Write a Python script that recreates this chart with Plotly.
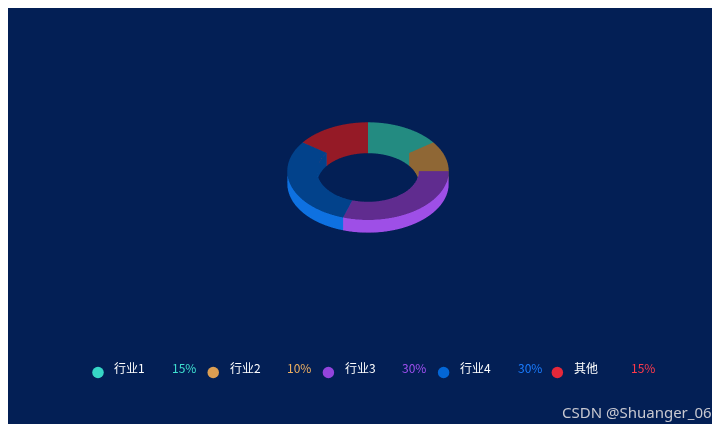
import numpy as np
import plotly.graph_objects as go

names = ["行业1", "行业2", "行业3", "行业4", "其他"]
values = [15, 10, 30, 30, 15]
colors = ["#36d6c6", "#dc9e52", "#9344dc", "#0366d6", "#e5283a"]
text_colors = ["#3fe0d0", "#f0b060", "#a050f0", "#1a7cff", "#ff3a4a"]

r_out, r_in, h = 1.0, 0.63, 0.2


def segment(a0, a1, color, name):
    t = np.linspace(a0, a1, 60)
    n = len(t)
    xs, ys, zs = [], [], []
    for r in (r_out, r_in):
        for z in (h, 0):
            xs += list(r * np.cos(t)); ys += list(r * np.sin(t)); zs += [z] * n
    # blocks: 0 outer top, 1 outer bottom, 2 inner top, 3 inner bottom
    I, J, K = [], [], []
    for b1, b2 in ((0, 2), (1, 3), (0, 1), (2, 3)):
        for k in range(n - 1):
            p, q = b1 * n + k, b2 * n + k
            I.extend([p, p + 1]); J.extend([q, q]); K.extend([p + 1, q + 1])
    for k in (0, n - 1):
        a, b, c, d = k, n + k, 2 * n + k, 3 * n + k
        I.extend([a, b]); J.extend([b, d]); K.extend([c, c])
    return go.Mesh3d(x=xs, y=ys, z=zs, i=I, j=J, k=K, color=color, name=name,
                     flatshading=False, showlegend=False, hoverinfo="name",
                     lighting=dict(ambient=0.65, diffuse=0.6, specular=0.25, roughness=0.5),
                     lightposition=dict(x=0, y=-1000, z=3000))


fig = go.Figure()
cum = 0
total = sum(values)
for nm, v, c in zip(names, values, colors):
    a0 = np.pi / 2 - 2 * np.pi * cum / total
    cum += v
    a1 = np.pi / 2 - 2 * np.pi * cum / total
    fig.add_trace(segment(a1, a0, c, nm))

ax = dict(visible=False, showbackground=False)
fig.update_layout(
    width=720, height=424, paper_bgcolor="#031f55", margin=dict(l=0, r=0, t=0, b=0),
    scene=dict(xaxis=dict(ax, range=[-1.05, 1.05]), yaxis=dict(ax, range=[-1.05, 1.05]),
               zaxis=dict(ax, range=[0, h]), aspectmode="manual",
               aspectratio=dict(x=1, y=1, z=h / 2.1),
               camera=dict(eye=dict(x=0, y=-1.45, z=1.1), projection=dict(type="orthographic")),
               domain=dict(x=[0.1, 0.9], y=[0.2, 1.0])),
    font=dict(family="Noto Sans CJK SC"),
)

xpos = [0.125, 0.285, 0.445, 0.605, 0.763]
for x0, nm, v, c, tc in zip(xpos, names, values, colors, text_colors):
    fig.add_shape(type="circle", xref="paper", yref="paper", x0=x0 - 0.008, x1=x0 + 0.008,
                  y0=0.127, y1=0.154, fillcolor=c, line=dict(width=0))
    fig.add_annotation(x=x0 + 0.02, y=0.128, xref="paper", yref="paper", text=nm, showarrow=False,
                       xanchor="left", font=dict(color="white", size=12))
    fig.add_annotation(x=x0 + 0.1, y=0.128, xref="paper", yref="paper", text=f"{v}%", showarrow=False,
                       xanchor="left", font=dict(color=tc, size=12))
fig.add_annotation(x=0.98, y=0.02, xref="paper", yref="paper", text="CSDN @Shuanger_06", showarrow=False,
                   xanchor="right", yanchor="bottom", font=dict(color="#c8c8d0", size=15, family="Noto Sans"))

fig.write_html("out.html")
